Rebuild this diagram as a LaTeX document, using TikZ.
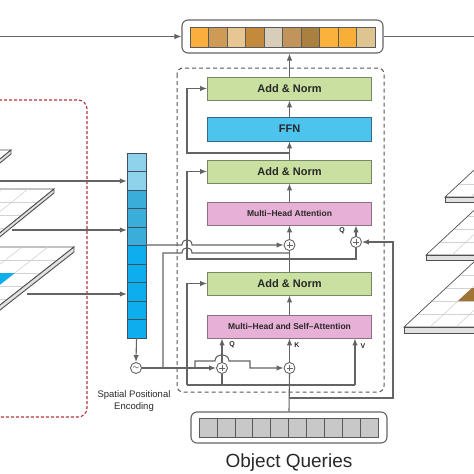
\documentclass[tikz,border=0pt]{standalone}
\usepackage{fontspec}
\setmainfont{Liberation Sans}
\usetikzlibrary{arrows.meta}

\definecolor{ink}{RGB}{40,40,40}
\definecolor{linegray}{RGB}{100,100,100}
\definecolor{dashgray}{RGB}{85,85,85}
\definecolor{anfill}{RGB}{201,224,161}
\definecolor{anline}{RGB}{120,135,100}
\definecolor{ffnfill}{RGB}{77,196,238}
\definecolor{ffnline}{RGB}{55,105,135}
\definecolor{mhfill}{RGB}{231,176,215}
\definecolor{mhline}{RGB}{145,110,135}
\definecolor{redline}{RGB}{180,50,60}
\definecolor{gridgray}{RGB}{210,210,210}
\definecolor{planeline}{RGB}{80,80,80}
\definecolor{slabfill}{RGB}{225,225,225}
\definecolor{cellline}{RGB}{90,90,90}
\definecolor{qcell}{RGB}{200,200,200}
\definecolor{colA}{RGB}{142,211,235}
\definecolor{colB}{RGB}{58,174,216}
\definecolor{colC}{RGB}{12,174,236}
\definecolor{colline}{RGB}{60,80,95}
\definecolor{brown}{RGB}{160,115,55}
\definecolor{oA}{RGB}{250,175,60}
\definecolor{oB}{RGB}{205,155,85}
\definecolor{oC}{RGB}{232,198,148}
\definecolor{oD}{RGB}{195,138,60}
\definecolor{oE}{RGB}{215,205,185}
\definecolor{oF}{RGB}{192,148,90}
\definecolor{oG}{RGB}{170,128,65}
\definecolor{oH}{RGB}{250,178,60}
\definecolor{oI}{RGB}{248,175,55}
\definecolor{oJ}{RGB}{222,196,145}

\begin{document}
\begin{tikzpicture}[x=1pt,y=-1pt,
  link/.style={draw=linegray,line width=1.1pt},
  wire/.style={link,-{Latex[length=7pt,width=5.5pt]}},
  block/.style={draw,line width=.9pt,minimum width=164pt,minimum height=23pt,
    inner sep=0pt,text=ink,font=\fontsize{11}{13}\selectfont\bfseries},
  addnorm/.style={block,fill=anfill,draw=anline},
  ffnbox/.style={block,fill=ffnfill,draw=ffnline,minimum height=24pt},
  attn/.style={block,fill=mhfill,draw=mhline,
    font=\fontsize{8.5}{10}\selectfont\bfseries},
  plus/.style={circle,draw=linegray,line width=.9pt,fill=white,
    minimum size=11pt,inner sep=0pt,
    path picture={\draw[linegray,line width=.7pt]
      ([xshift=-3pt]path picture bounding box.center)
        -- ([xshift=3pt]path picture bounding box.center)
      ([yshift=-3pt]path picture bounding box.center)
        -- ([yshift=3pt]path picture bounding box.center);}},
  tag/.style={font=\fontsize{7}{8}\selectfont\bfseries,text=ink,inner sep=1pt},
  plane/.style={fill=white,draw=planeline,line width=.7pt},
  slab/.style={fill=slabfill,draw=planeline,line width=.9pt},
  gridline/.style={draw=gridgray,line width=.6pt},
  frame/.style={draw=linegray,line width=1.1pt,rounded corners=6pt,fill=white}]

\useasboundingbox (0,0) rectangle (474,474);
\clip (0,0) rectangle (474,474);

% Left feature maps inside the red dashed frame
\draw[redline,line width=1.1pt,dash pattern=on 3pt off 2pt,rounded corners=9pt]
  (-20,100) rectangle (87,417);
\filldraw[plane] (11,150) -- (-38,190) -- (-150,190) -- (-101,150) -- cycle;
\filldraw[slab] (11,150) -- (11,154) -- (-38,194) -- (-38,190) -- cycle;

\filldraw[plane] (54,189) -- (-20,249) -- (-200,249) -- (-126,189) -- cycle;
\begin{scope}
  \clip (54,189) -- (-20,249) -- (-200,249) -- (-126,189) -- cycle;
  \foreach \y in {202,215,228,241}
    \draw[gridline] (-200,\y) -- ({54-1.233*(\y-189)},\y);
  \foreach \k in {1,2,3}
    \draw[gridline] ({54-26*\k},189) -- ({-20-26*\k},249);
\end{scope}
\filldraw[slab] (54,189) -- (54,193) -- (-20,253) -- (-20,249) -- cycle;

\filldraw[plane] (74,247) -- (-28,327) -- (-200,327) -- (-200,247) -- cycle;
\begin{scope}
  \clip (74,247) -- (-28,327) -- (-200,327) -- (-200,247) -- cycle;
  \foreach \y in {260,273,286,299,312}
    \draw[gridline] (-200,\y) -- ({74-1.276*(\y-247)},\y);
  \foreach \k in {1,2,3,4}
    \draw[gridline] ({74-26*\k},247) -- ({-28-26*\k},327);
  \fill[colC] (14.8,273) -- (-11.2,273) -- (-27.8,286) -- (-1.8,286) -- cycle;
\end{scope}
\filldraw[slab] (74,247) -- (74,252) -- (-28,332) -- (-28,327) -- cycle;

% Right feature maps
\filldraw[plane] (445,197) -- (560,197) -- (603,157) -- (488,157) -- cycle;
\begin{scope}
  \clip (445,197) -- (560,197) -- (603,157) -- (488,157) -- cycle;
  \foreach \y in {184,171}
    \draw[gridline] ({445+1.075*(197-\y)},\y) -- (560,\y);
  \foreach \k in {1,2}
    \draw[gridline] ({445+26*\k},197) -- ({488+26*\k},157);
\end{scope}
\filldraw[slab] (445,197) rectangle (560,202);

\filldraw[plane] (426,255) -- (600,255) -- (664.5,195) -- (490.5,195) -- cycle;
\begin{scope}
  \clip (426,255) -- (600,255) -- (664.5,195) -- (490.5,195) -- cycle;
  \foreach \y in {242,229,216,203}
    \draw[gridline] ({426+1.075*(255-\y)},\y) -- (600,\y);
  \foreach \k in {1,2,3}
    \draw[gridline] ({426+26*\k},255) -- ({490.5+26*\k},195);
\end{scope}
\filldraw[slab] (426,255) rectangle (600,260);

\filldraw[plane] (404,327) -- (600,327) -- (686,247) -- (490,247) -- cycle;
\begin{scope}
  \clip (404,327) -- (600,327) -- (686,247) -- (490,247) -- cycle;
  \foreach \y in {314,301,288,275,262}
    \draw[gridline] ({404+1.075*(327-\y)},\y) -- (600,\y);
  \foreach \k in {1,2,3}
    \draw[gridline] ({404+26*\k},327) -- ({490+26*\k},247);
  \fill[brown] (458,301) -- (484,301) -- (498,288) -- (472,288) -- cycle;
\end{scope}
\filldraw[slab] (404,327) rectangle (600,333);

% Flattened memory column and spatial encoding
\foreach \i/\c in {0/colA,1/colA,2/colB,3/colB,4/colB,5/colC,6/colC,7/colC,8/colC,9/colC}
  \filldraw[fill=\c,draw=colline,line width=.8pt] (127,{153+18.5*\i}) rectangle ++(19,18.5);
\node[inner sep=0pt,minimum width=19pt,minimum height=185pt] (col) at (136.5,245.5) {};
\node[circle,draw=linegray,line width=.9pt,fill=white,minimum size=11pt,
  inner sep=0pt,font=\scriptsize] (pe) at (136,368) {$\sim$};
\node[font=\fontsize{9.5}{12}\selectfont,text=ink,align=center] (pelabel)
  at (134,401) {Spatial Positional\\Encoding};

\coordinate (f1) at (0,181);
\coordinate (f2) at (12,230);
\coordinate (f3) at (27,294);
\draw[wire] (f1) -- (f1 -| col.west);
\draw[wire] (f2) -- (f2 -| col.west);
\draw[wire] (f3) -- (f3 -| col.west);
\draw[wire] (col.south) -- (pe.north);

% Decoder
\draw[draw=dashgray,line width=1pt,dash pattern=on 4pt off 3pt,rounded corners=6pt]
  (177,68) rectangle (384,392);

\node[addnorm] (an1) at (289.5,88.5) {Add \& Norm};
\node[ffnbox] (ffn) at (289.5,129) {FFN};
\node[addnorm] (an2) at (289.5,171.5) {Add \& Norm};
\node[attn] (mha) at (289.5,213.5) {Multi--Head Attention};
\node[addnorm] (an3) at (289.5,283.5) {Add \& Norm};
\node[attn] (mhsa) at (289.5,326.5) {Multi--Head and Self--Attention};

\node[plus] (pk2) at (289.5,245) {};
\node[plus] (pq2) at (356,242) {};
\node[plus] (pq1) at (222,368) {};
\node[plus] (pk1) at (289.5,368) {};

\node[tag] (q2) at (342,231) {Q};
\node[tag] (q1) at (232,345) {Q};
\node[tag] (k1) at (297,345) {K};
\node[tag] (v1) at (363,346) {V};

% Output and queries
\node[frame,minimum width=201pt,minimum height=33pt,inner sep=0pt] (outbox) at (282.5,36.5) {};
\foreach \i/\c in {0/oA,1/oB,2/oC,3/oD,4/oE,5/oF,6/oG,7/oH,8/oI,9/oJ}
  \filldraw[fill=\c,draw=cellline,line width=.6pt] ({190+18.5*\i},27) rectangle ++(18.5,20);
\node[frame,minimum width=196pt,minimum height=31pt,inner sep=0pt] (qbox) at (289,427.5) {};
\foreach \i in {0,...,9}
  \filldraw[fill=qcell,draw=cellline,line width=.6pt] ({199+17.9*\i},418) rectangle ++(17.9,19);
\node[font=\fontsize{19}{22}\selectfont,text=ink] (qlabel) at (289,463) {Object Queries};

\coordinate (topin) at (0,36.5);
\coordinate (topout) at (474,36.5);
\draw[wire] (topin) -- (outbox.west);
\draw[link] (outbox.east) -- (topout);

% Upper stack
\draw[wire] (an1.north) -- (an1.north |- outbox.south);
\draw[wire] (ffn.north) -- (an1.south);
\draw[wire] (an2.north) -- (ffn.south);
\draw[wire] (mha.north) -- (an2.south);
\coordinate (r3) at (289.5,153);
\draw[wire] (r3) -- (187,153) |- (an1.west);
\draw[wire] (pk2.north) -- (pk2.north |- mha.south);
\draw[wire] (pq2.north) -- (pq2.north |- mha.south);

% Cross-attention inputs
\coordinate (j2) at (289.5,259);
\coordinate (r2) at (187,259);
\draw[link] (an3.north) -- (pk2.south);
\draw[wire] (j2) -- (r2) |- (an2.west);
\draw[link] (j2) -| (pq2.south);
\coordinate (mem) at (146,245);
\draw[wire] (mem) -- (182,245) .. controls (182,238) and (192,238) .. (192,245) -- (pk2.west);
\coordinate (pb) at (163,368);
\draw[link] (pb) -- (163,253) -- (182,253) .. controls (182,246) and (192,246) .. (192,253)
  -- (289.5,253);

% Self-attention inputs
\draw[wire] (pe.east) -- (pq1.west);
\coordinate (pf) at (195,368);
\draw[wire] (pf) -- (195,361) -- (215,361) .. controls (215,353) and (229,353) .. (229,361)
  -- (250,361) -- (250,368) -- (pk1.west);
\draw[wire] (pq1.north) -- (pq1.north |- mhsa.south);
\draw[wire] (pk1.north) -- (pk1.north |- mhsa.south);
\coordinate (r1) at (187,385);
\coordinate (vb) at (355,385);
\draw[link] (r1) -- (vb);
\draw[wire] (vb) -- (vb |- mhsa.south);
\draw[wire] (r1) |- (an3.west);
\draw[link] (pq1.south) -- (pq1.south |- r1);
\draw[wire] (mhsa.north) -- (an3.south);
\draw[link] (qbox.north) -- (pk1.south);
\coordinate (qj) at (289,398);
\draw[wire] (qj) -- (393,398) |- (pq2.east);
\end{tikzpicture}
\end{document}
